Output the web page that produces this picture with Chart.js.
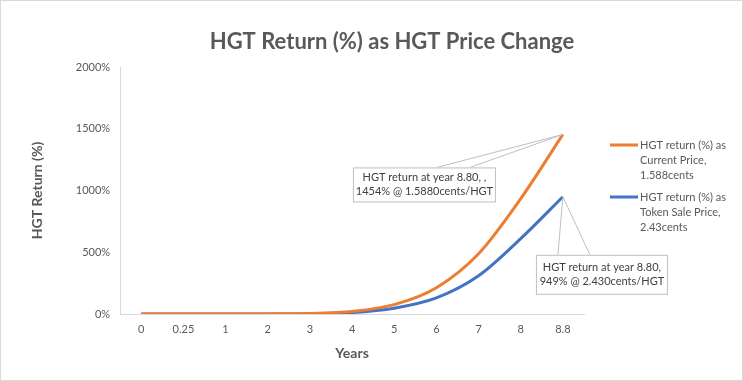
<!DOCTYPE html>
<html>
<head>
<meta charset="utf-8">
<script src="https://cdn.jsdelivr.net/npm/chart.js@4.4.1/dist/chart.umd.min.js"></script>
<style>
  html, body { margin: 0; padding: 0; background: #fff; }
  #wrap { position: relative; width: 743px; height: 381px; box-sizing: border-box; border: 1px solid #d9d9d9; }
  canvas { display: block; }
</style>
</head>
<body>
<div id="wrap"><canvas id="c" width="741" height="379"></canvas></div>
<script>
const years = ['0', '0.25', '1', '2', '3', '4', '5', '6', '7', '8', '8.8'];
const currentPriceReturn = [0, 0, 0, 1, 5, 21, 76, 213, 488, 934, 1454];
const tokenSaleReturn = [0, 0, 0, 0.5, 3, 12, 47, 130, 309, 610, 949];
const yTicks = [0, 500, 1000, 1500, 2000];
const chartTitle = 'HGT Return (%) as HGT Price Change';
const seriesNames = [
  ['HGT return (%) as', 'Current Price,', '1.588cents'],
  ['HGT return (%) as', 'Token Sale Price,', '2.43cents']
];
const annotationTexts = [
  ['HGT return at year 8.80, ,', '1454% @ 1.5880cents/HGT'],
  ['HGT return at year 8.80,', '949% @ 2.430cents/HGT']
];
const colors = ['#ED7D31', '#4472C4'];

const FONT = 'Lato, "Open Sans", sans-serif';

const extras = {
  id: 'extras',
  afterDatasetsDraw(chart) {
    const ctx = chart.ctx;
    const xs = chart.scales.x, ys = chart.scales.y;
    const area = chart.chartArea;
    ctx.save();
    // title
    ctx.fillStyle = '#595959';
    ctx.font = 'bold 22px ' + FONT;
    ctx.textAlign = 'center';
    ctx.textBaseline = 'middle';
    ctx.fillText(chartTitle, 391, 41);
    // annotations
    const last = years.length - 1;
    const px = xs.getPixelForValue(last);
    const p1 = ys.getPixelForValue(currentPriceReturn[last]);
    const p2 = ys.getPixelForValue(tokenSaleReturn[last]);
    const boxes = [
      { x: px - 210, y: p1 + 33, w: 142, h: 34, l1: px - 126, l2: px - 93, pt: p1 },
      { x: px - 27, y: p2 + 58, w: 131, h: 39, l1: px - 5, l2: px + 27, pt: p2 }
    ];
    ctx.strokeStyle = '#bfbfbf';
    ctx.lineWidth = 1;
    boxes.forEach((b, i) => {
      ctx.beginPath();
      ctx.moveTo(b.l1, b.y); ctx.lineTo(px, b.pt); ctx.lineTo(b.l2, b.y);
      ctx.stroke();
      ctx.fillStyle = '#fff';
      ctx.fillRect(b.x, b.y, b.w, b.h);
      ctx.strokeRect(b.x + 0.5, b.y + 0.5, b.w, b.h);
      ctx.fillStyle = '#404040';
      ctx.font = '11px ' + FONT;
      ctx.textAlign = 'center';
      ctx.textBaseline = 'middle';
      const lines = annotationTexts[i];
      const lh = 14;
      const cy = b.y + b.h / 2 + 0.5;
      lines.forEach((t, k) => ctx.fillText(t, b.x + b.w / 2 + 0.5, cy + (k - (lines.length - 1) / 2) * lh));
    });
    // legend
    const lx = area.right + 26;
    const tops = [area.top + 78, area.top + 130];
    seriesNames.forEach((lines, i) => {
      const y = tops[i];
      ctx.strokeStyle = colors[i];
      ctx.lineWidth = 3;
      ctx.beginPath(); ctx.moveTo(lx, y); ctx.lineTo(lx + 28, y); ctx.stroke();
      ctx.fillStyle = '#595959';
      ctx.font = '11px ' + FONT;
      ctx.textAlign = 'left';
      ctx.textBaseline = 'middle';
      lines.forEach((t, k) => ctx.fillText(t, lx + 30, y + k * 15));
    });
    ctx.restore();
  }
};

new Chart(document.getElementById('c'), {
  type: 'line',
  data: {
    labels: years,
    datasets: [
      { label: seriesNames[0].join(' '), data: currentPriceReturn, borderColor: colors[0], backgroundColor: colors[0], borderWidth: 3, pointRadius: 0, cubicInterpolationMode: 'monotone' },
      { label: seriesNames[1].join(' '), data: tokenSaleReturn, borderColor: colors[1], backgroundColor: colors[1], borderWidth: 3, pointRadius: 0, cubicInterpolationMode: 'monotone' }
    ]
  },
  options: {
    responsive: false,
    animation: false,
    layout: { padding: { top: 66, left: 28, right: 158, bottom: 18 } },
    plugins: {
      legend: { display: false },
      tooltip: { enabled: false },
      title: { display: false }
    },
    scales: {
      x: {
        offset: true,
        grid: { display: false, drawTicks: false },
        border: { display: true, color: '#d9d9d9' },
        ticks: { color: '#595959', font: { family: FONT, size: 11 }, padding: 9, maxRotation: 0, autoSkip: false },
        title: { display: true, text: 'Years', color: '#595959', font: { family: FONT, size: 14, weight: 'bold' }, padding: { top: 0, bottom: 0 } }
      },
      y: {
        min: 0, max: 2000,
        afterBuildTicks(scale) { scale.ticks = yTicks.map(v => ({ value: v })); },
        grid: { display: false, drawTicks: false },
        border: { display: true, color: '#d9d9d9' },
        ticks: { color: '#595959', font: { family: FONT, size: 11 }, padding: 10, callback: v => v + '%' },
        title: { display: true, text: 'HGT Return (%)', color: '#595959', font: { family: FONT, size: 14, weight: 'bold' }, padding: { top: 0, bottom: 20 } }
      }
    }
  },
  plugins: [extras]
});
</script>
</body>
</html>
